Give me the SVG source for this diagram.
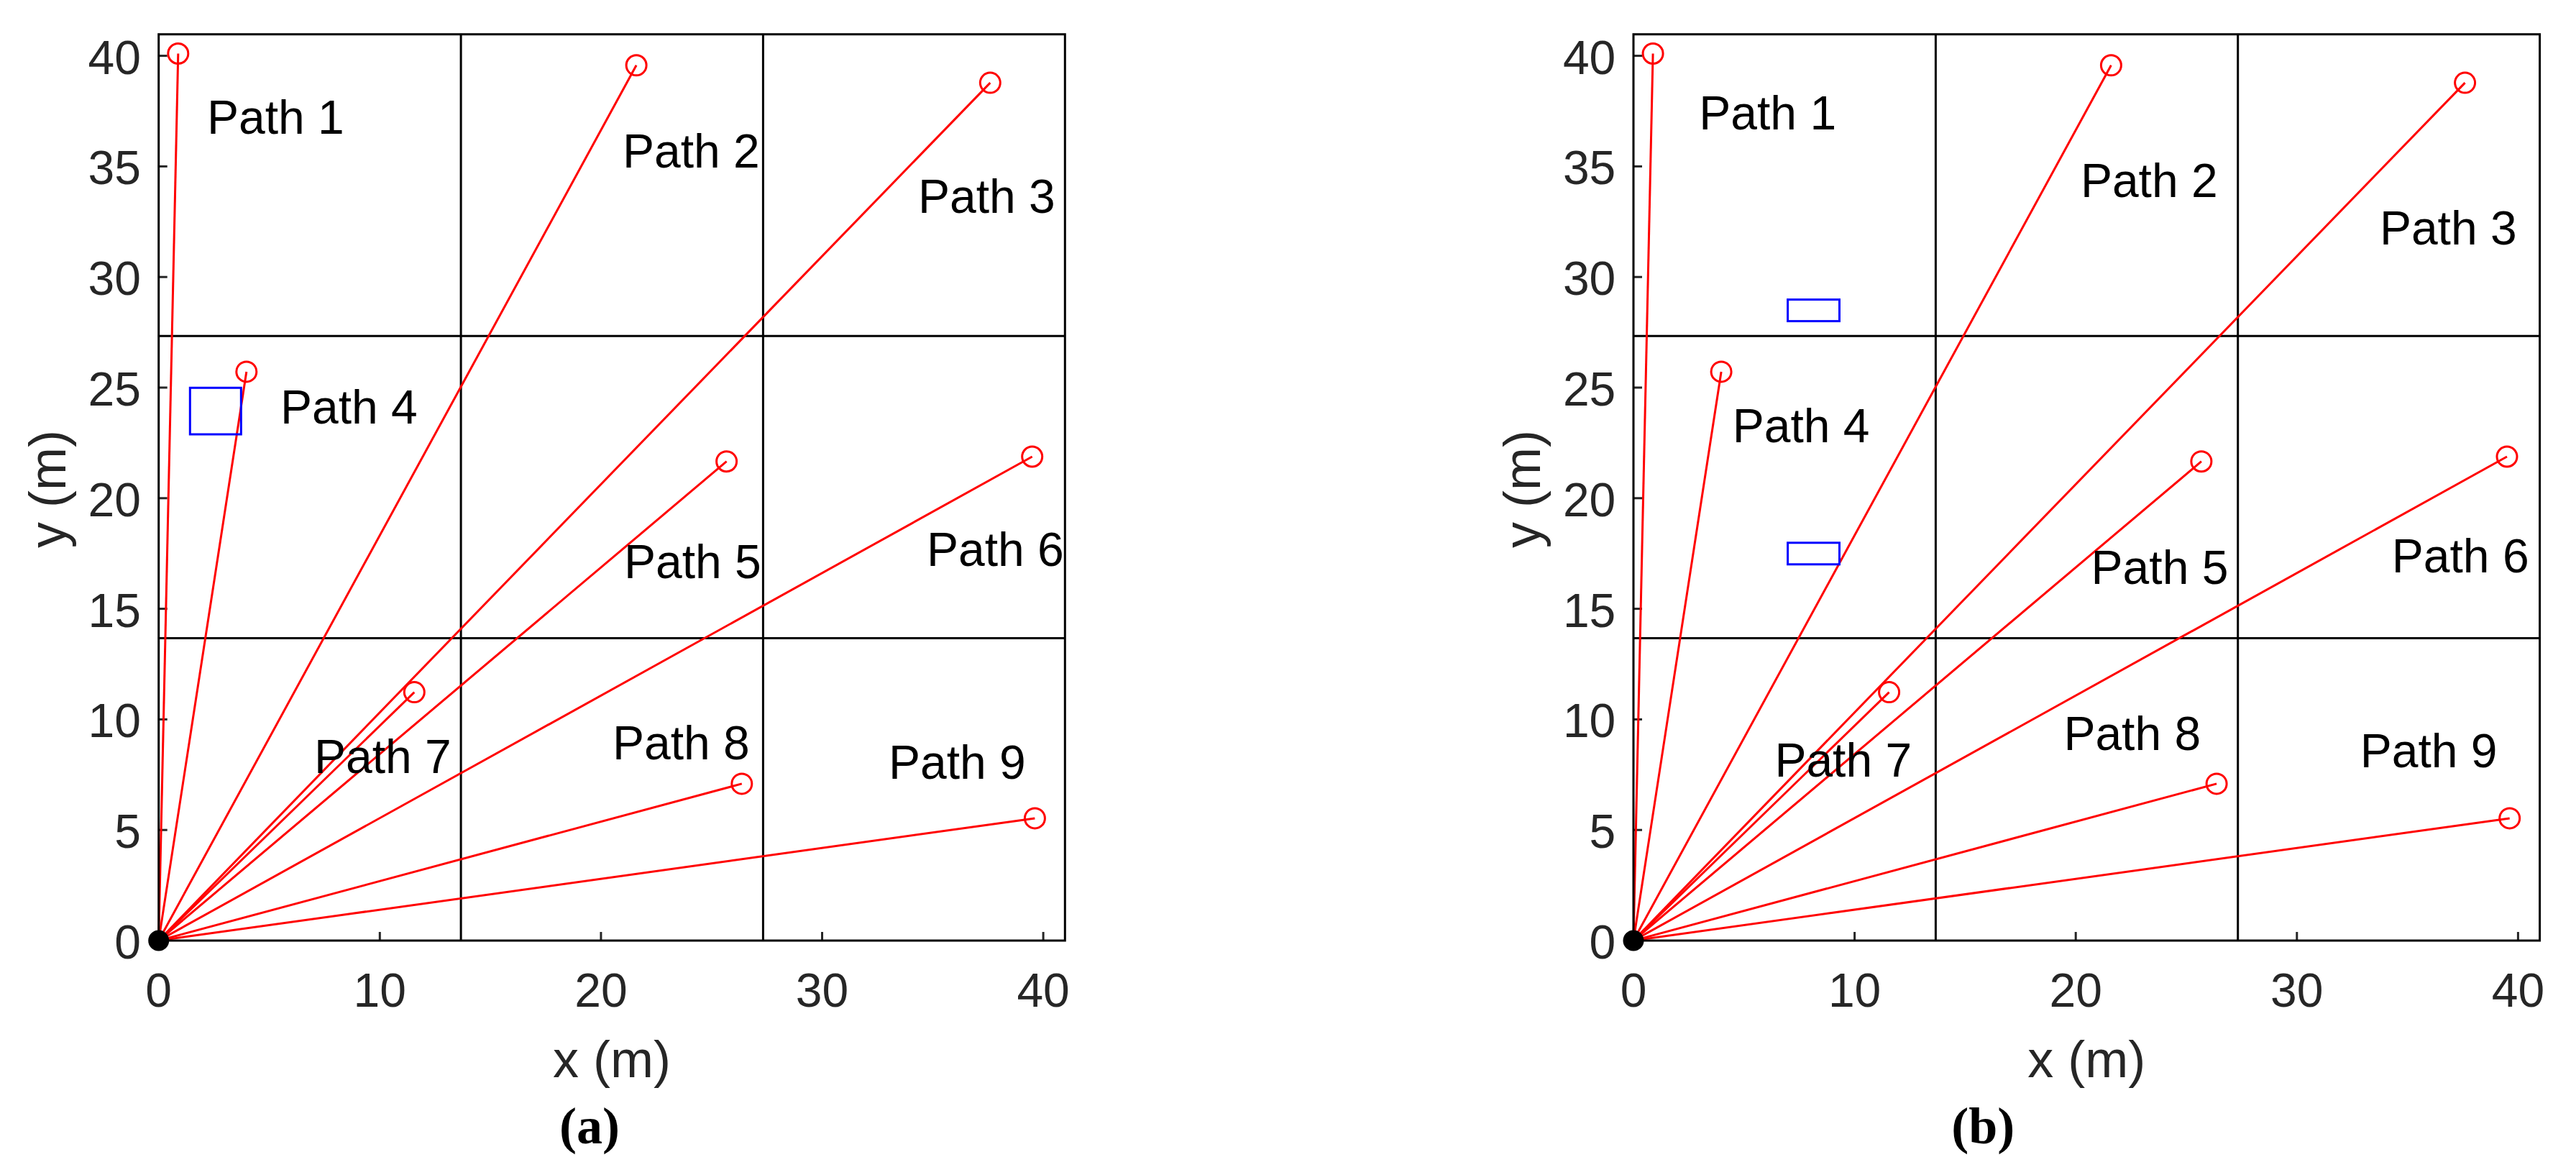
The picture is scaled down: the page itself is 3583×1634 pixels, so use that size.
<svg xmlns="http://www.w3.org/2000/svg" width="3583" height="1634" viewBox="0 0 3583 1634">
<style>
.bg{fill:#fff}
.box{fill:none;stroke:#000;stroke-width:3}
.grid{stroke:#000;stroke-width:3;fill:none}
.tick{stroke:#262626;stroke-width:3}
.tl{font-family:"Liberation Sans",Arial,sans-serif;font-size:66px;fill:#262626}
.tx{text-anchor:middle}
.ty{text-anchor:end}
.al{font-family:"Liberation Sans",Arial,sans-serif;font-size:72px;fill:#262626;text-anchor:middle}
.pl{font-family:"Liberation Sans",Arial,sans-serif;font-size:66px;fill:#000}
.ray{stroke:#ff0000;stroke-width:3;fill:none}
.end{stroke:#ff0000;stroke-width:3;fill:none}
.obs{stroke:#0000ff;stroke-width:3;fill:none}
.src{fill:#000}
.cap{font-family:"Liberation Serif","Times New Roman",serif;font-size:72px;font-weight:bold;fill:#000;text-anchor:middle}
</style>
<rect class="bg" x="0" y="0" width="3583" height="1634"/>

<g id="panel-a">
  <g id="a-axes">
    <line class="grid" x1="641.1" y1="47.7" x2="641.1" y2="1308"/>
    <line class="grid" x1="1061.4" y1="47.7" x2="1061.4" y2="1308"/>
    <line class="grid" x1="220.7" y1="467.3" x2="1481.3" y2="467.3"/>
    <line class="grid" x1="220.7" y1="887.6" x2="1481.3" y2="887.6"/>
    <g id="a-ticks">
      <line class="tick" x1="528.3" y1="1308" x2="528.3" y2="1296"/>
      <line class="tick" x1="835.9" y1="1308" x2="835.9" y2="1296"/>
      <line class="tick" x1="1143.5" y1="1308" x2="1143.5" y2="1296"/>
      <line class="tick" x1="1451.1" y1="1308" x2="1451.1" y2="1296"/>
      <line class="tick" x1="220.7" y1="1154.2" x2="232.7" y2="1154.2"/>
      <line class="tick" x1="220.7" y1="1000.4" x2="232.7" y2="1000.4"/>
      <line class="tick" x1="220.7" y1="846.6" x2="232.7" y2="846.6"/>
      <line class="tick" x1="220.7" y1="692.8" x2="232.7" y2="692.8"/>
      <line class="tick" x1="220.7" y1="539" x2="232.7" y2="539"/>
      <line class="tick" x1="220.7" y1="385.2" x2="232.7" y2="385.2"/>
      <line class="tick" x1="220.7" y1="231.4" x2="232.7" y2="231.4"/>
      <line class="tick" x1="220.7" y1="77.6" x2="232.7" y2="77.6"/>
    </g>
    <g id="a-ticklabels" class="tl">
      <text class="tx" x="220.7" y="1400">0</text>
      <text class="tx" x="528.3" y="1400">10</text>
      <text class="tx" x="835.9" y="1400">20</text>
      <text class="tx" x="1143.5" y="1400">30</text>
      <text class="tx" x="1451.1" y="1400">40</text>
      <text class="ty" x="196" y="1333">0</text>
      <text class="ty" x="196" y="1179.2">5</text>
      <text class="ty" x="196" y="1025.4">10</text>
      <text class="ty" x="196" y="871.6">15</text>
      <text class="ty" x="196" y="717.8">20</text>
      <text class="ty" x="196" y="564">25</text>
      <text class="ty" x="196" y="410.2">30</text>
      <text class="ty" x="196" y="256.4">35</text>
      <text class="ty" x="196" y="102.6">40</text>
    </g>
    <text class="al" x="851" y="1498">x (m)</text>
    <text class="al" transform="translate(91 680) rotate(-90)" x="0" y="0">y (m)</text>
  </g>
  <g id="a-connectors">
    <line class="ray" x1="220.7" y1="1308" x2="247.8" y2="74.5"/>
    <line class="ray" x1="220.7" y1="1308" x2="885.1" y2="90.8"/>
    <line class="ray" x1="220.7" y1="1308" x2="1377.3" y2="115.1"/>
    <line class="ray" x1="220.7" y1="1308" x2="342.8" y2="516.9"/>
    <line class="ray" x1="220.7" y1="1308" x2="1010.6" y2="641.7"/>
    <line class="ray" x1="220.7" y1="1308" x2="1435.7" y2="635"/>
    <line class="ray" x1="220.7" y1="1308" x2="576.3" y2="962.6"/>
    <line class="ray" x1="220.7" y1="1308" x2="1031.8" y2="1089.9"/>
    <line class="ray" x1="220.7" y1="1308" x2="1439.4" y2="1137.9"/>
  </g>
  <g id="a-obstacle"><rect class="obs" x="264.3" y="539.3" width="71" height="64.7"/></g>
  <g id="a-endpoints">
    <circle id="a-p1" class="end" cx="247.8" cy="74.5" r="14"/>
    <circle id="a-p2" class="end" cx="885.1" cy="90.8" r="14"/>
    <circle id="a-p3" class="end" cx="1377.3" cy="115.1" r="14"/>
    <circle id="a-p4" class="end" cx="342.8" cy="516.9" r="14"/>
    <circle id="a-p5" class="end" cx="1010.6" cy="641.7" r="14"/>
    <circle id="a-p6" class="end" cx="1435.7" cy="635" r="14"/>
    <circle id="a-p7" class="end" cx="576.3" cy="962.6" r="14"/>
    <circle id="a-p8" class="end" cx="1031.8" cy="1089.9" r="14"/>
    <circle id="a-p9" class="end" cx="1439.4" cy="1137.9" r="14"/>
  </g>
  <g id="a-labels" class="pl">
    <text x="288" y="185.7">Path 1</text>
    <text x="866" y="232.7">Path 2</text>
    <text x="1277" y="295.7">Path 3</text>
    <text x="390" y="589">Path 4</text>
    <text x="868" y="803.7">Path 5</text>
    <text x="1289" y="786.5">Path 6</text>
    <text x="437" y="1074.8">Path 7</text>
    <text x="852" y="1056">Path 8</text>
    <text x="1236" y="1083.3">Path 9</text>
  </g>
  <rect class="box" x="220.7" y="47.7" width="1260.6" height="1260.3"/>
  <g id="a-source"><circle class="src" cx="220.7" cy="1308" r="14.5"/></g>
  <text class="cap" x="820" y="1590">(a)</text>
</g>

<g id="panel-b" transform="translate(2051.3 0)">
  <g id="b-axes">
    <line class="grid" x1="641.1" y1="47.7" x2="641.1" y2="1308"/>
    <line class="grid" x1="1061.4" y1="47.7" x2="1061.4" y2="1308"/>
    <line class="grid" x1="220.7" y1="467.3" x2="1481.3" y2="467.3"/>
    <line class="grid" x1="220.7" y1="887.6" x2="1481.3" y2="887.6"/>
    <g id="b-ticks">
      <line class="tick" x1="528.3" y1="1308" x2="528.3" y2="1296"/>
      <line class="tick" x1="835.9" y1="1308" x2="835.9" y2="1296"/>
      <line class="tick" x1="1143.5" y1="1308" x2="1143.5" y2="1296"/>
      <line class="tick" x1="1451.1" y1="1308" x2="1451.1" y2="1296"/>
      <line class="tick" x1="220.7" y1="1154.2" x2="232.7" y2="1154.2"/>
      <line class="tick" x1="220.7" y1="1000.4" x2="232.7" y2="1000.4"/>
      <line class="tick" x1="220.7" y1="846.6" x2="232.7" y2="846.6"/>
      <line class="tick" x1="220.7" y1="692.8" x2="232.7" y2="692.8"/>
      <line class="tick" x1="220.7" y1="539" x2="232.7" y2="539"/>
      <line class="tick" x1="220.7" y1="385.2" x2="232.7" y2="385.2"/>
      <line class="tick" x1="220.7" y1="231.4" x2="232.7" y2="231.4"/>
      <line class="tick" x1="220.7" y1="77.6" x2="232.7" y2="77.6"/>
    </g>
    <g id="b-ticklabels" class="tl">
      <text class="tx" x="220.7" y="1400">0</text>
      <text class="tx" x="528.3" y="1400">10</text>
      <text class="tx" x="835.9" y="1400">20</text>
      <text class="tx" x="1143.5" y="1400">30</text>
      <text class="tx" x="1451.1" y="1400">40</text>
      <text class="ty" x="196" y="1333">0</text>
      <text class="ty" x="196" y="1179.2">5</text>
      <text class="ty" x="196" y="1025.4">10</text>
      <text class="ty" x="196" y="871.6">15</text>
      <text class="ty" x="196" y="717.8">20</text>
      <text class="ty" x="196" y="564">25</text>
      <text class="ty" x="196" y="410.2">30</text>
      <text class="ty" x="196" y="256.4">35</text>
      <text class="ty" x="196" y="102.6">40</text>
    </g>
    <text class="al" x="851" y="1498">x (m)</text>
    <text class="al" transform="translate(91 680) rotate(-90)" x="0" y="0">y (m)</text>
  </g>
  <g id="b-connectors">
    <line class="ray" x1="220.7" y1="1308" x2="247.8" y2="74.5"/>
    <line class="ray" x1="220.7" y1="1308" x2="885.1" y2="90.8"/>
    <line class="ray" x1="220.7" y1="1308" x2="1377.3" y2="115.1"/>
    <line class="ray" x1="220.7" y1="1308" x2="342.8" y2="516.9"/>
    <line class="ray" x1="220.7" y1="1308" x2="1010.6" y2="641.7"/>
    <line class="ray" x1="220.7" y1="1308" x2="1435.7" y2="635"/>
    <line class="ray" x1="220.7" y1="1308" x2="576.3" y2="962.6"/>
    <line class="ray" x1="220.7" y1="1308" x2="1031.8" y2="1089.9"/>
    <line class="ray" x1="220.7" y1="1308" x2="1439.4" y2="1137.9"/>
  </g>
  <g id="b-obstacles">
    <rect class="obs" x="435.3" y="416.6" width="71.9" height="30"/>
    <rect class="obs" x="435.3" y="754.8" width="71.9" height="30"/>
  </g>
  <g id="b-endpoints">
    <circle id="b-p1" class="end" cx="247.8" cy="74.5" r="14"/>
    <circle id="b-p2" class="end" cx="885.1" cy="90.8" r="14"/>
    <circle id="b-p3" class="end" cx="1377.3" cy="115.1" r="14"/>
    <circle id="b-p4" class="end" cx="342.8" cy="516.9" r="14"/>
    <circle id="b-p5" class="end" cx="1010.6" cy="641.7" r="14"/>
    <circle id="b-p6" class="end" cx="1435.7" cy="635" r="14"/>
    <circle id="b-p7" class="end" cx="576.3" cy="962.6" r="14"/>
    <circle id="b-p8" class="end" cx="1031.8" cy="1089.9" r="14"/>
    <circle id="b-p9" class="end" cx="1439.4" cy="1137.9" r="14"/>
  </g>
  <g id="b-labels" class="pl">
    <text x="312" y="180">Path 1</text>
    <text x="842.6" y="274.2">Path 2</text>
    <text x="1258.6" y="340.3">Path 3</text>
    <text x="358.4" y="615.4">Path 4</text>
    <text x="857.3" y="812">Path 5</text>
    <text x="1275.5" y="795.9">Path 6</text>
    <text x="417.1" y="1079.8">Path 7</text>
    <text x="819.1" y="1043.1">Path 8</text>
    <text x="1231.4" y="1066.6">Path 9</text>
  </g>
  <rect class="box" x="220.7" y="47.7" width="1260.6" height="1260.3"/>
  <g id="b-source"><circle class="src" cx="220.7" cy="1308" r="14.5"/></g>
  <text class="cap" x="707" y="1590">(b)</text>
</g>
</svg>
